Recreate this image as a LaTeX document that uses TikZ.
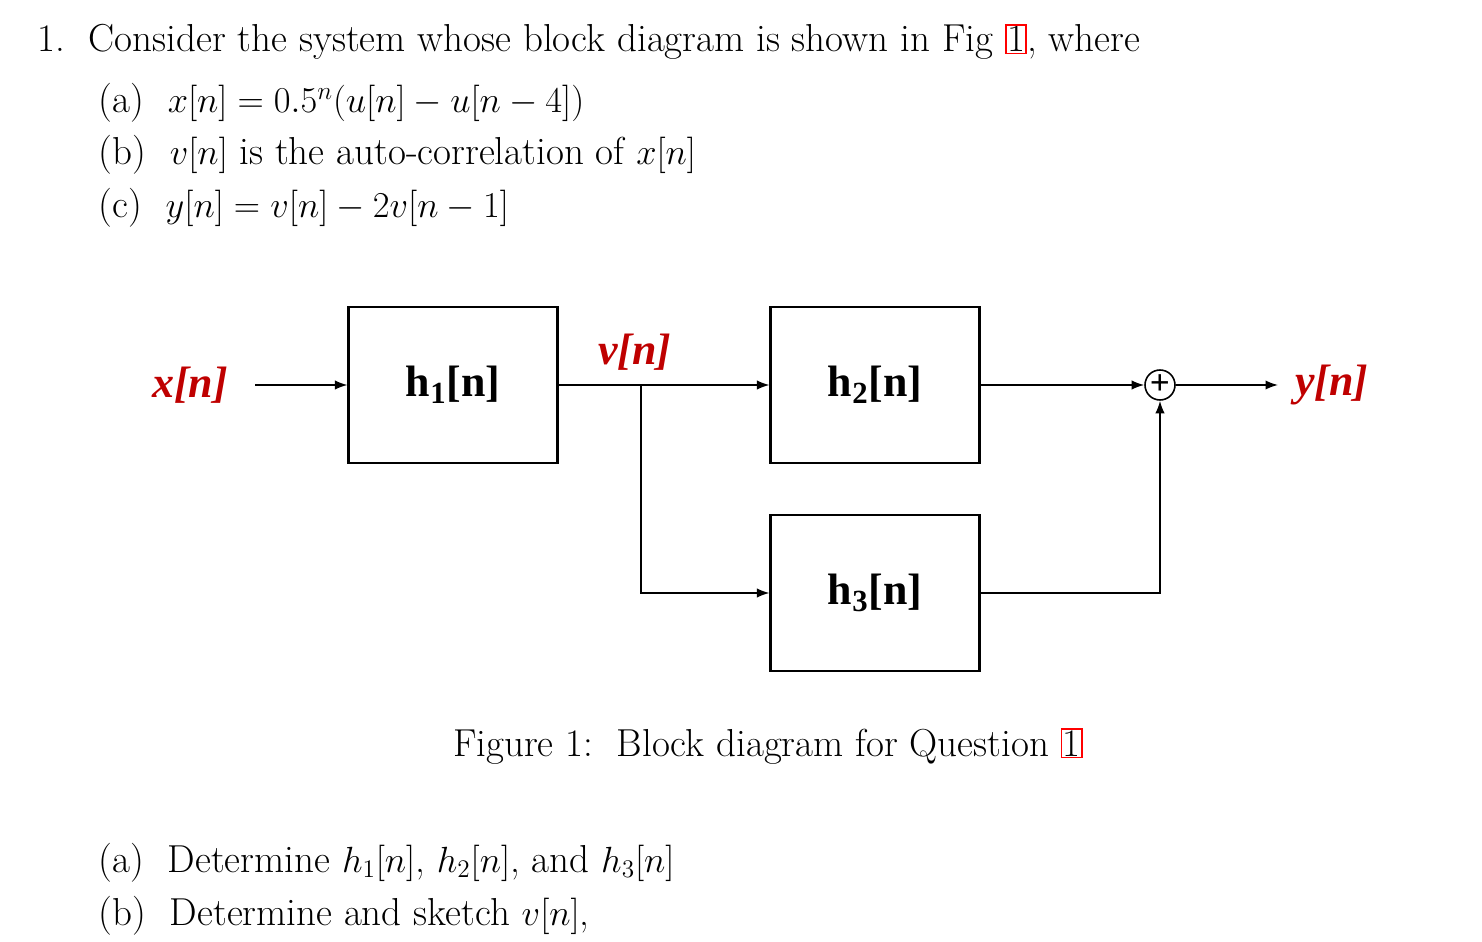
\documentclass[tikz,border=0pt]{standalone}
\usepackage{amsmath}
\usepackage{fontspec}
\newfontfamily\blockfont{Liberation Serif}[BoldFont={Liberation Serif Bold}, BoldItalicFont={Liberation Serif Bold Italic}, ItalicFont={Liberation Serif Italic}]
\usetikzlibrary{positioning,arrows.meta}
\newcommand{\refbox}[1]{\setlength{\fboxsep}{0.3pt}\setlength{\fboxrule}{0.9pt}\fcolorbox{red}{white}{#1}}
\begin{document}
\begin{tikzpicture}[x=0.02cm, y=-0.02cm, thick,
    block/.style={rectangle, draw=black, line width=1.2pt, minimum width=4.18cm, minimum height=3.12cm, font=\blockfont\bfseries\fontsize{25}{28}\selectfont},
    signal/.style={text=red!75!black, font=\blockfont\bfseries\itshape\fontsize{25}{28}\selectfont},
    txt/.style={anchor=base west, inner sep=0pt, font=\fontsize{22.2}{26}\selectfont},
    wire/.style={-{Latex[length=2.5mm]}, line width=0.9pt}]

    \useasboundingbox (0,0) rectangle (1482,942);

    % Question text
    \node[txt] (q1) at (37,52) {1.\ \ Consider the system whose block diagram is shown in Fig \refbox{1}, where};
    \node[txt] (qa) at (98,113) {(a)\ \ $x[n]=0.5^n(u[n]-u[n-4])$};
    \node[txt] (qb) at (98,165) {(b)\ \ $v[n]$ is the auto-correlation of $x[n]$};
    \node[txt] (qc) at (98,218) {(c)\ \ $y[n]=v[n]-2v[n-1]$};

    % Blocks
    \node[block] (H1) at (453,385) {h\textsubscript{1}[n]};
    \node[block] (H2) at (875,385) {h\textsubscript{2}[n]};
    \node[block] (H3) at (875,593) {h\textsubscript{3}[n]};
    \node[circle, draw, line width=0.9pt, minimum size=0.6cm, inner sep=0pt, font=\blockfont\bfseries\fontsize{20}{20}\selectfont] (Sum) at (1160,385) {+};

    % Signals
    \node[signal] (X) at (190,385) {x[n]};
    \node[signal] (V) at (635,352) {v[n]};
    \node[signal] (Y) at (1332,385) {y[n]};
    \coordinate (Xend) at (255,385);
    \coordinate (Yend) at (1278,385);
    \coordinate (Split) at (641,385);

    % Connections
    \draw[wire] (Xend) -- (H1);
    \draw[wire] (H1) -- (H2);
    \draw[wire] (Split) |- (H3);
    \draw[wire] (H2) -- (Sum);
    \draw[wire] (H3) -| (Sum);
    \draw[wire] (Sum) -- (Yend);

    % Caption and parts
    \node[txt, anchor=base] (cap) at (768,756) {Figure 1:\ \ Block diagram for Question \refbox{1}};
    \node[txt] (pa) at (98,872) {(a)\ \ Determine $h_1[n]$, $h_2[n]$, and $h_3[n]$};
    \node[txt] (pb) at (98,925) {(b)\ \ Determine and sketch $v[n]$,};
\end{tikzpicture}
\end{document}
